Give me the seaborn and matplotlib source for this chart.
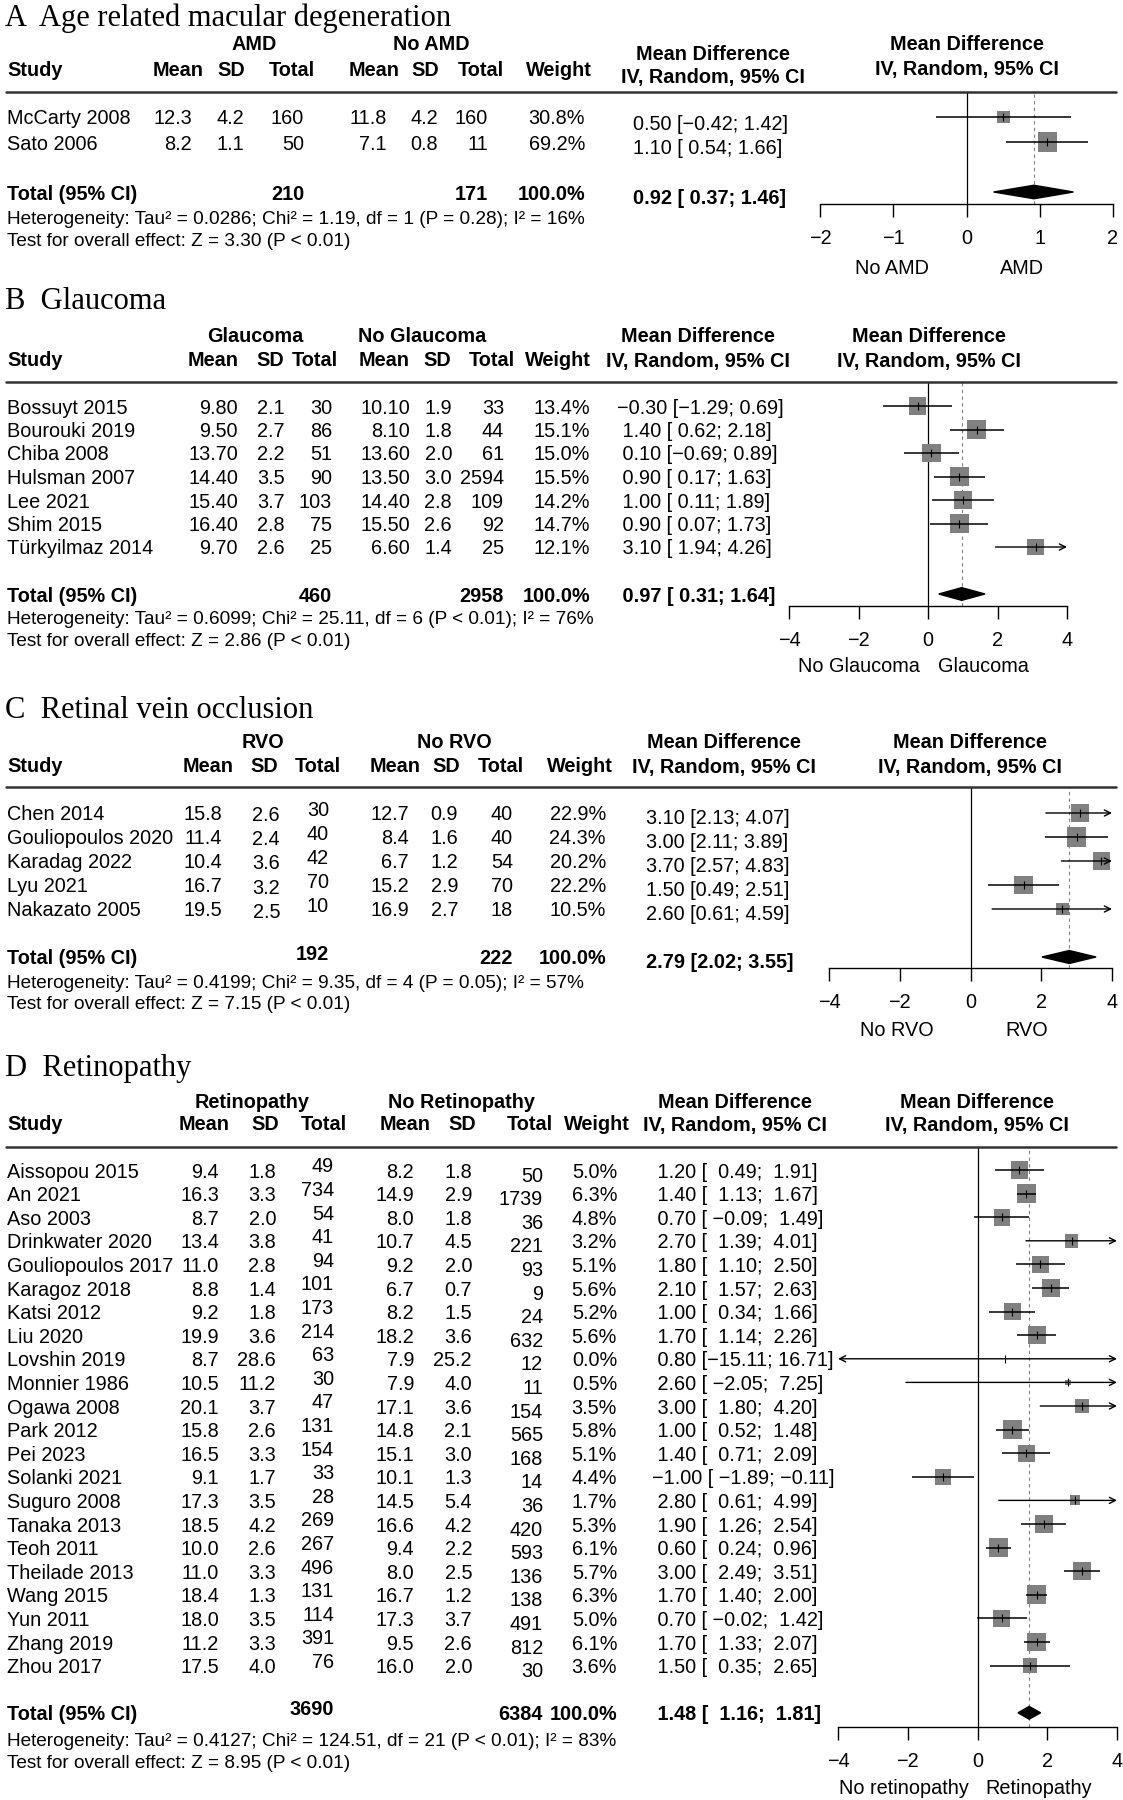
import numpy as np
import matplotlib
matplotlib.use("Agg")
import matplotlib.pyplot as plt
import seaborn as sns
from matplotlib import transforms
from matplotlib.lines import Line2D

# ---------------- data ----------------
# A - age related macular degeneration
amd_study = ["McCarty 2008", "Sato 2006"]
amd_mean_e = [12.3, 8.2]
amd_sd_e = [4.2, 1.1]
amd_n_e = [160, 50]
amd_mean_c = [11.8, 7.1]
amd_sd_c = [4.2, 0.8]
amd_n_c = [160, 11]
amd_weight = [30.8, 69.2]
amd_md = [0.50, 1.10]
amd_lo = [-0.42, 0.54]
amd_hi = [1.42, 1.66]
amd_pooled = [0.92, 0.37, 1.46]
amd_het = "Heterogeneity: Tau² = 0.0286; Chi² = 1.19, df = 1 (P = 0.28); I² = 16%"
amd_test = "Test for overall effect: Z = 3.30 (P < 0.01)"

# B - glaucoma
gl_study = ["Bossuyt 2015", "Bourouki 2019", "Chiba 2008", "Hulsman 2007",
            "Lee 2021", "Shim 2015", "Türkyilmaz 2014"]
gl_mean_e = [9.80, 9.50, 13.70, 14.40, 15.40, 16.40, 9.70]
gl_sd_e = [2.1, 2.7, 2.2, 3.5, 3.7, 2.8, 2.6]
gl_n_e = [30, 86, 51, 90, 103, 75, 25]
gl_mean_c = [10.10, 8.10, 13.60, 13.50, 14.40, 15.50, 6.60]
gl_sd_c = [1.9, 1.8, 2.0, 3.0, 2.8, 2.6, 1.4]
gl_n_c = [33, 44, 61, 2594, 109, 92, 25]
gl_weight = [13.4, 15.1, 15.0, 15.5, 14.2, 14.7, 12.1]
gl_md = [-0.30, 1.40, 0.10, 0.90, 1.00, 0.90, 3.10]
gl_lo = [-1.29, 0.62, -0.69, 0.17, 0.11, 0.07, 1.94]
gl_hi = [0.69, 2.18, 0.89, 1.63, 1.89, 1.73, 4.26]
gl_pooled = [0.97, 0.31, 1.64]
gl_het = "Heterogeneity: Tau² = 0.6099; Chi² = 25.11, df = 6 (P < 0.01); I² = 76%"
gl_test = "Test for overall effect: Z = 2.86 (P < 0.01)"

# C - retinal vein occlusion
rvo_study = ["Chen 2014", "Gouliopoulos 2020", "Karadag 2022", "Lyu 2021", "Nakazato 2005"]
rvo_mean_e = [15.8, 11.4, 10.4, 16.7, 19.5]
rvo_sd_e = [2.6, 2.4, 3.6, 3.2, 2.5]
rvo_n_e = [30, 40, 42, 70, 10]
rvo_mean_c = [12.7, 8.4, 6.7, 15.2, 16.9]
rvo_sd_c = [0.9, 1.6, 1.2, 2.9, 2.7]
rvo_n_c = [40, 40, 54, 70, 18]
rvo_weight = [22.9, 24.3, 20.2, 22.2, 10.5]
rvo_md = [3.10, 3.00, 3.70, 1.50, 2.60]
rvo_lo = [2.13, 2.11, 2.57, 0.49, 0.61]
rvo_hi = [4.07, 3.89, 4.83, 2.51, 4.59]
rvo_pooled = [2.79, 2.02, 3.55]
rvo_het = "Heterogeneity: Tau² = 0.4199; Chi² = 9.35, df = 4 (P = 0.05); I² = 57%"
rvo_test = "Test for overall effect: Z = 7.15 (P < 0.01)"

# D - retinopathy
ret_study = ["Aissopou 2015", "An 2021", "Aso 2003", "Drinkwater 2020", "Gouliopoulos 2017",
             "Karagoz 2018", "Katsi 2012", "Liu 2020", "Lovshin 2019", "Monnier 1986",
             "Ogawa 2008", "Park 2012", "Pei 2023", "Solanki 2021", "Suguro 2008",
             "Tanaka 2013", "Teoh 2011", "Theilade 2013", "Wang 2015", "Yun 2011",
             "Zhang 2019", "Zhou 2017"]
ret_mean_e = [9.4, 16.3, 8.7, 13.4, 11.0, 8.8, 9.2, 19.9, 8.7, 10.5, 20.1,
              15.8, 16.5, 9.1, 17.3, 18.5, 10.0, 11.0, 18.4, 18.0, 11.2, 17.5]
ret_sd_e = [1.8, 3.3, 2.0, 3.8, 2.8, 1.4, 1.8, 3.6, 28.6, 11.2, 3.7,
            2.6, 3.3, 1.7, 3.5, 4.2, 2.6, 3.3, 1.3, 3.5, 3.3, 4.0]
ret_n_e = [49, 734, 54, 41, 94, 101, 173, 214, 63, 30, 47,
           131, 154, 33, 28, 269, 267, 496, 131, 114, 391, 76]
ret_mean_c = [8.2, 14.9, 8.0, 10.7, 9.2, 6.7, 8.2, 18.2, 7.9, 7.9, 17.1,
              14.8, 15.1, 10.1, 14.5, 16.6, 9.4, 8.0, 16.7, 17.3, 9.5, 16.0]
ret_sd_c = [1.8, 2.9, 1.8, 4.5, 2.0, 0.7, 1.5, 3.6, 25.2, 4.0, 3.6,
            2.1, 3.0, 1.3, 5.4, 4.2, 2.2, 2.5, 1.2, 3.7, 2.6, 2.0]
ret_n_c = [50, 1739, 36, 221, 93, 9, 24, 632, 12, 11, 154,
           565, 168, 14, 36, 420, 593, 136, 138, 491, 812, 30]
ret_weight = [5.0, 6.3, 4.8, 3.2, 5.1, 5.6, 5.2, 5.6, 0.0, 0.5, 3.5,
              5.8, 5.1, 4.4, 1.7, 5.3, 6.1, 5.7, 6.3, 5.0, 6.1, 3.6]
ret_md = [1.20, 1.40, 0.70, 2.70, 1.80, 2.10, 1.00, 1.70, 0.80, 2.60, 3.00,
          1.00, 1.40, -1.00, 2.80, 1.90, 0.60, 3.00, 1.70, 0.70, 1.70, 1.50]
ret_lo = [0.49, 1.13, -0.09, 1.39, 1.10, 1.57, 0.34, 1.14, -15.11, -2.05, 1.80,
          0.52, 0.71, -1.89, 0.61, 1.26, 0.24, 2.49, 1.40, -0.02, 1.33, 0.35]
ret_hi = [1.91, 1.67, 1.49, 4.01, 2.50, 2.63, 1.66, 2.26, 16.71, 7.25, 4.20,
          1.48, 2.09, -0.11, 4.99, 2.54, 0.96, 3.51, 2.00, 1.42, 2.07, 2.65]
ret_pooled = [1.48, 1.16, 1.81]
ret_het = "Heterogeneity: Tau² = 0.4127; Chi² = 124.51, df = 21 (P < 0.01); I² = 83%"
ret_test = "Test for overall effect: Z = 8.95 (P < 0.01)"

panels = [
    dict(title="A  Age related macular degeneration", grp=("AMD", "No AMD"), side=("No AMD", "AMD"),
         study=amd_study, mean_e=amd_mean_e, sd_e=amd_sd_e, n_e=amd_n_e, mean_c=amd_mean_c,
         sd_c=amd_sd_c, n_c=amd_n_c, weight=amd_weight, md=amd_md, lo=amd_lo, hi=amd_hi,
         pooled=amd_pooled, het=amd_het, test=amd_test, mfmt="{:.1f}",
         xlim=(-2, 2), ticks=[-2, -1, 0, 1, 2]),
    dict(title="B  Glaucoma", grp=("Glaucoma", "No Glaucoma"), side=("No Glaucoma", "Glaucoma"),
         study=gl_study, mean_e=gl_mean_e, sd_e=gl_sd_e, n_e=gl_n_e, mean_c=gl_mean_c,
         sd_c=gl_sd_c, n_c=gl_n_c, weight=gl_weight, md=gl_md, lo=gl_lo, hi=gl_hi,
         pooled=gl_pooled, het=gl_het, test=gl_test, mfmt="{:.2f}",
         xlim=(-4, 4), ticks=[-4, -2, 0, 2, 4]),
    dict(title="C  Retinal vein occlusion", grp=("RVO", "No RVO"), side=("No RVO", "RVO"),
         study=rvo_study, mean_e=rvo_mean_e, sd_e=rvo_sd_e, n_e=rvo_n_e, mean_c=rvo_mean_c,
         sd_c=rvo_sd_c, n_c=rvo_n_c, weight=rvo_weight, md=rvo_md, lo=rvo_lo, hi=rvo_hi,
         pooled=rvo_pooled, het=rvo_het, test=rvo_test, mfmt="{:.1f}",
         xlim=(-4, 4), ticks=[-4, -2, 0, 2, 4]),
    dict(title="D  Retinopathy", grp=("Retinopathy", "No Retinopathy"), side=("No retinopathy", "Retinopathy"),
         study=ret_study, mean_e=ret_mean_e, sd_e=ret_sd_e, n_e=ret_n_e, mean_c=ret_mean_c,
         sd_c=ret_sd_c, n_c=ret_n_c, weight=ret_weight, md=ret_md, lo=ret_lo, hi=ret_hi,
         pooled=ret_pooled, het=ret_het, test=ret_test, mfmt="{:.1f}",
         xlim=(-4, 4), ticks=[-4, -2, 0, 2, 4]),
]

# layout in pixels of the 1123x1800 canvas
layouts = [
    dict(title=15, hdr1=43, hdr2=68, md1=52, md2=76, line=92, row0=117, dy=25, axis=204,
         het=218, test=239, x0=820, x1=1113, lab_y=267, lab=(892, 1022),
         cols=[192, 244, 304, 387, 438, 488, 585, 633], shift=[0, 0, 0, 0, 0, 0, 0, 5],
         heads=[178, 231, 292, 374, 425, 481, 559], md_x=713, right_x=967, grp_x=(254, 431)),
    dict(title=298, hdr1=335, hdr2=359, md1=335, md2=359, line=382, row0=406, dy=23.5, axis=606,
         het=618, test=639, x0=789, x1=1067, lab_y=665, lab=(859, 983),
         cols=[238, 285, 332, 410, 452, 504, 590, 617], shift=[0, 0, 0, 0, 0, 0, 0, 0],
         heads=[213, 270, 315, 384, 437, 492, 558], md_x=698, right_x=929, grp_x=(255, 422)),
    dict(title=707, hdr1=741, hdr2=765, md1=741, md2=765, line=787, row0=813, dy=24, axis=968,
         het=982, test=1003, x0=829, x1=1112, lab_y=1028, lab=(897, 1027),
         cols=[222, 280, 329, 409, 458, 513, 606, 646], shift=[0, 1, -4, 0, 0, 0, 0, 4],
         heads=[208, 264, 318, 395, 446, 501, 580], md_x=724, right_x=970, grp_x=(263, 454)),
    dict(title=1065, hdr1=1101, hdr2=1123, md1=1101, md2=1123, line=1147, row0=1170, dy=23.6, axis=1727,
         het=1740, test=1761, x0=838, x1=1117, lab_y=1787, lab=(904, 1039),
         cols=[219, 276, 334, 414, 472, 543, 617, 652], shift=[0, 0, -5, 0, 0, 4, 0, 0],
         heads=[204, 265, 324, 405, 462, 530, 597], md_x=735, right_x=977, grp_x=(252, 461)),
]

W, H = 1123, 1800
BODY = 14.3
SMALL = 13.7
TITLE = 22

sns.set_theme(style="white")
plt.rcParams["font.family"] = ["Liberation Sans", "DejaVu Sans"]
plt.rcParams["axes.unicode_minus"] = True

fig = plt.figure(figsize=(W / 100, H / 100), dpi=100)
fig.patch.set_facecolor("white")


def fx(px):
    return px / W


def fy(py):
    return 1 - py / H


def ci_strings(md, lo, hi):
    a = [f"{v:.2f}" for v in md]
    b = [f"{v:.2f}" for v in lo]
    c = [f"{v:.2f}" for v in hi]
    wa, wb, wc = max(map(len, a)), max(map(len, b)), max(map(len, c))
    out = [f"{x:>{wa}} [{y:>{wb}}; {z:>{wc}}]" for x, y, z in zip(a, b, c)]
    return [s.replace("-", "−") for s in out]


def draw_panel(p, lay):
    n = len(p["study"])
    r0, dy = lay["row0"], lay["dy"]
    xmin, xmax = p["xlim"]

    # forest part
    ax = fig.add_axes([fx(lay["x0"]), fy(lay["axis"]),
                       fx(lay["x1"]) - fx(lay["x0"]), fy(lay["line"]) - fy(lay["axis"])])
    ax.set_xlim(xmin, xmax)
    ax.set_ylim(-(lay["axis"] - r0) / dy, (r0 - lay["line"]) / dy)
    ax.patch.set_visible(False)
    for s in ["top", "left", "right"]:
        ax.spines[s].set_visible(False)
    ax.spines["bottom"].set_color("black")
    ax.spines["bottom"].set_linewidth(1.0)
    ax.set_xticks(p["ticks"])
    ax.set_yticks([])
    ax.tick_params(axis="x", direction="out", bottom=True, length=9, width=1, pad=9,
                   labelsize=BODY, colors="black")
    ax.grid(False)

    ys = -np.arange(n)
    est, plo, phi = p["pooled"]
    ax.axvline(0, color="black", lw=0.9, zorder=1)
    ax.axvline(est, color="grey", lw=0.8, ls=(0, (3, 3)), zorder=1)

    wmax = max(p["weight"])
    sns.scatterplot(x=p["md"], y=ys, size=p["weight"], sizes=(0, 190), size_norm=(0, wmax),
                    marker="s", color="grey", linewidth=0, legend=False, ax=ax,
                    zorder=2, clip_on=False)

    for y, lo, hi in zip(ys, p["lo"], p["hi"]):
        a, b = max(lo, xmin), min(hi, xmax)
        if lo < xmin or hi > xmax:
            style = "<->" if (lo < xmin and hi > xmax) else "->"
            start, end = (a, b) if hi > xmax else (b, a)
            ax.annotate("", xy=(end, y), xytext=(start, y), annotation_clip=False,
                        arrowprops=dict(arrowstyle=style, color="black", lw=1.0,
                                        shrinkA=0, shrinkB=0, mutation_scale=11))
        else:
            ax.plot([lo, hi], [y, y], color="black", lw=1.1, solid_capstyle="butt", zorder=3)
    ax.scatter(p["md"], ys, marker="|", s=28, color="black", linewidths=0.8, zorder=4)

    yt = -(n + 1)
    h = 0.27
    ax.fill([plo, est, phi, est], [yt, yt + h, yt, yt - h], color="black", zorder=3, clip_on=False)

    # table part
    tr = transforms.blended_transform_factory(fig.transFigure, ax.transData)

    def put(px, y, s, ha="right", bold=False, dpx=0):
        ax.text(fx(px), y - dpx / dy, s, transform=tr, ha=ha, va="center_baseline",
                fontsize=BODY, fontweight="bold" if bold else "normal", color="black")

    c, sh = lay["cols"], lay["shift"]
    ci = ci_strings(p["md"] + [est], p["lo"] + [plo], p["hi"] + [phi])
    for k in range(n):
        y = -k
        put(7, y, p["study"][k], ha="left")
        put(c[0], y, p["mfmt"].format(p["mean_e"][k]), dpx=sh[0])
        put(c[1], y, f"{p['sd_e'][k]:.1f}", dpx=sh[1])
        put(c[2], y, str(p["n_e"][k]), dpx=sh[2])
        put(c[3], y, p["mfmt"].format(p["mean_c"][k]), dpx=sh[3])
        put(c[4], y, f"{p['sd_c'][k]:.1f}", dpx=sh[4])
        put(c[5], y, str(p["n_c"][k]), dpx=sh[5])
        put(c[6], y, f"{p['weight'][k]:.1f}%", dpx=sh[6])
        put(c[7], y, ci[k], ha="left", dpx=sh[7])

    put(7, yt, "Total (95% CI)", ha="left", bold=True)
    put(c[2], yt, str(sum(p["n_e"])), bold=True, dpx=sh[2])
    put(c[5], yt, str(sum(p["n_c"])), bold=True)
    put(c[6], yt, "100.0%", bold=True)
    put(c[7], yt, ci[-1], ha="left", bold=True, dpx=sh[7])

    # headers
    def ftxt(px, py, s, ha="center", bold=True, size=BODY, family=None):
        kw = dict(ha=ha, va="center_baseline", fontsize=size, color="black",
                  fontweight="bold" if bold else "normal")
        if family:
            kw["family"] = family
        fig.text(fx(px), fy(py), s, **kw)

    ftxt(5, lay["title"], p["title"], ha="left", bold=False, size=TITLE, family="Liberation Serif")
    ftxt(lay["grp_x"][0], lay["hdr1"], p["grp"][0])
    ftxt(lay["grp_x"][1], lay["hdr1"], p["grp"][1])
    ftxt(7, lay["hdr2"], "Study", ha="left")
    for hx, lab in zip(lay["heads"], ["Mean", "SD", "Total", "Mean", "SD", "Total", "Weight"]):
        ftxt(hx, lay["hdr2"], lab)
    ftxt(lay["md_x"], lay["md1"], "Mean Difference")
    ftxt(lay["md_x"], lay["md2"], "IV, Random, 95% CI")
    ftxt(lay["right_x"], lay["hdr1"], "Mean Difference")
    ftxt(lay["right_x"], lay["hdr2"], "IV, Random, 95% CI")
    fig.add_artist(Line2D([fx(6), fx(1116)], [fy(lay["line"])] * 2, transform=fig.transFigure,
                          color="#333333", lw=1.8))

    ftxt(7, lay["het"], p["het"], ha="left", bold=False, size=SMALL)
    ftxt(7, lay["test"], p["test"], ha="left", bold=False, size=SMALL)
    ftxt(lay["lab"][0], lay["lab_y"], p["side"][0], bold=False)
    ftxt(lay["lab"][1], lay["lab_y"], p["side"][1], bold=False)


for p, lay in zip(panels, layouts):
    draw_panel(p, lay)

fig.savefig("out.png", dpi=100, facecolor="white")
